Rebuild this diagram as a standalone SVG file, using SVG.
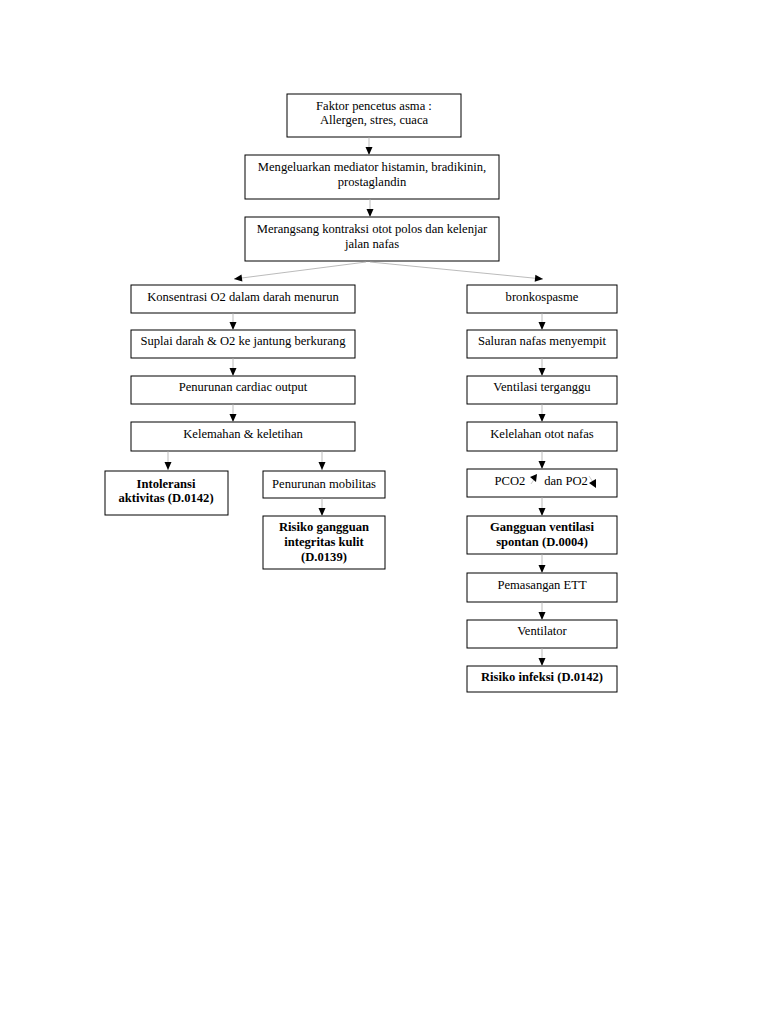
<svg xmlns="http://www.w3.org/2000/svg" width="768" height="1024" viewBox="0 0 768 1024">
<style>
.box{fill:#fff;stroke:#000;stroke-width:1}
.t{font-family:"Liberation Serif","Times New Roman",serif;font-size:12.6px;fill:#000;text-anchor:middle}
.b{font-weight:bold}
.c{stroke:#aaa;stroke-width:0.8;fill:none}
</style>
<defs>
<marker id="ah" markerUnits="userSpaceOnUse" markerWidth="10" markerHeight="10" viewBox="0 0 10 10" refX="9" refY="5" orient="auto">
<path d="M1,1.5 L9,5 L1,8.5 Z" fill="#000"/>
</marker>
</defs>
<rect width="768" height="1024" fill="#fff"/>

<g id="n1"><rect class="box" x="287" y="94" width="174" height="43"/>
<text class="t" x="374" y="110">Faktor pencetus asma :</text>
<text class="t" x="374" y="124">Allergen, stres, cuaca</text></g>

<g id="n2"><rect class="box" x="245" y="155" width="254" height="44"/>
<text class="t" x="372" y="171">Mengeluarkan mediator histamin, bradikinin,</text>
<text class="t" x="372" y="186">prostaglandin</text></g>

<g id="n3"><rect class="box" x="245" y="217" width="254" height="44"/>
<text class="t" x="372" y="233">Merangsang kontraksi otot polos dan kelenjar</text>
<text class="t" x="372" y="248">jalan nafas</text></g>

<g id="l1"><rect class="box" x="131" y="285" width="224" height="28"/>
<text class="t" x="243" y="301">Konsentrasi O2 dalam darah menurun</text></g>
<g id="l2"><rect class="box" x="131" y="330" width="224" height="28"/>
<text class="t" x="243" y="345">Suplai darah &amp; O2 ke jantung berkurang</text></g>
<g id="l3"><rect class="box" x="131" y="376" width="224" height="28"/>
<text class="t" x="243" y="391">Penurunan cardiac output</text></g>
<g id="l4"><rect class="box" x="131" y="422" width="224" height="29"/>
<text class="t" x="243" y="438">Kelemahan &amp; keletihan</text></g>

<g id="l5"><rect class="box" x="105" y="471" width="123" height="44"/>
<text class="t b" x="166" y="488">Intoleransi</text>
<text class="t b" x="166" y="502">aktivitas (D.0142)</text></g>
<g id="l6"><rect class="box" x="263" y="471" width="122" height="27"/>
<text class="t" x="324" y="488">Penurunan mobilitas</text></g>
<g id="l7"><rect class="box" x="263" y="516" width="122" height="53"/>
<text class="t b" x="324" y="531">Risiko gangguan</text>
<text class="t b" x="324" y="546">integritas kulit</text>
<text class="t b" x="324" y="561">(D.0139)</text></g>

<g id="r1"><rect class="box" x="467" y="285" width="150" height="28"/>
<text class="t" x="542" y="301">bronkospasme</text></g>
<g id="r2"><rect class="box" x="467" y="330" width="150" height="28"/>
<text class="t" x="542" y="345">Saluran nafas menyempit</text></g>
<g id="r3"><rect class="box" x="467" y="376" width="150" height="28"/>
<text class="t" x="542" y="391">Ventilasi terganggu</text></g>
<g id="r4"><rect class="box" x="467" y="422" width="150" height="29"/>
<text class="t" x="542" y="438">Kelelahan otot nafas</text></g>
<g id="r5"><rect class="box" x="467" y="469" width="150" height="28"/>
<text class="t" x="510" y="485">PCO2</text>
<text class="t" x="566" y="485">dan PO2</text>
<line x1="531" y1="484" x2="535" y2="478" stroke="#bbb" stroke-width="0.8"/>
<polygon points="530,477 537,474 536,482" fill="#000"/>
<line x1="589" y1="476" x2="593" y2="482" stroke="#bbb" stroke-width="0.8"/>
<polygon points="589,483 596,479 596,488" fill="#000"/></g>
<g id="r6"><rect class="box" x="467" y="516" width="150" height="38"/>
<text class="t b" x="542" y="531">Gangguan ventilasi</text>
<text class="t b" x="542" y="546">spontan (D.0004)</text></g>
<g id="r7"><rect class="box" x="467" y="573" width="150" height="29"/>
<text class="t" x="542" y="589">Pemasangan ETT</text></g>
<g id="r8"><rect class="box" x="467" y="620" width="150" height="28"/>
<text class="t" x="542" y="635">Ventilator</text></g>
<g id="r9"><rect class="box" x="467" y="666" width="150" height="26"/>
<text class="t b" x="542" y="681">Risiko infeksi (D.0142)</text></g>

<g id="connectors">
<line class="c" x1="369" y1="137" x2="369" y2="155" marker-end="url(#ah)"/>
<line class="c" x1="370" y1="199" x2="370" y2="217" marker-end="url(#ah)"/>
<line class="c" x1="366" y1="262" x2="234" y2="279" marker-end="url(#ah)"/>
<line class="c" x1="370" y1="262" x2="543" y2="279" marker-end="url(#ah)"/>
<line class="c" x1="233" y1="313" x2="233" y2="330" marker-end="url(#ah)"/>
<line class="c" x1="233" y1="358" x2="233" y2="376" marker-end="url(#ah)"/>
<line class="c" x1="233" y1="404" x2="233" y2="422" marker-end="url(#ah)"/>
<line class="c" x1="168" y1="451" x2="168" y2="470" marker-end="url(#ah)"/>
<line class="c" x1="322" y1="451" x2="322" y2="470" marker-end="url(#ah)"/>
<line class="c" x1="322" y1="498" x2="322" y2="516" marker-end="url(#ah)"/>
<line class="c" x1="542" y1="313" x2="542" y2="330" marker-end="url(#ah)"/>
<line class="c" x1="542" y1="358" x2="542" y2="376" marker-end="url(#ah)"/>
<line class="c" x1="542" y1="404" x2="542" y2="422" marker-end="url(#ah)"/>
<line class="c" x1="542" y1="451" x2="542" y2="469" marker-end="url(#ah)"/>
<line class="c" x1="542" y1="497" x2="542" y2="516" marker-end="url(#ah)"/>
<line class="c" x1="542" y1="554" x2="542" y2="573" marker-end="url(#ah)"/>
<line class="c" x1="542" y1="602" x2="542" y2="620" marker-end="url(#ah)"/>
<line class="c" x1="542" y1="648" x2="542" y2="666" marker-end="url(#ah)"/>
</g>
</svg>
